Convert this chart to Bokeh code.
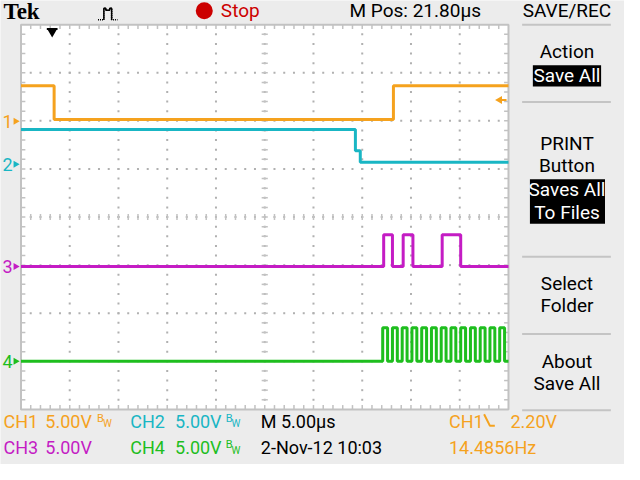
import numpy as np
from bokeh.plotting import figure
from bokeh.models import Range1d, Label
from bokeh.embed import file_html
from bokeh.resources import INLINE

# ---------------- data (time in µs, levels in volts) ----------------
ch1_t = [0.0, 3.4, 38.2, 50.0]
ch1_v = [3.7, 0.2, 3.7, 3.7]

ch2_t = [0.0, 34.3, 34.8, 50.0]
ch2_v = [3.6, 1.4, 0.2, 0.2]

ch3_t = [0.0, 37.2, 38.1, 39.2, 40.2, 43.2, 45.1, 50.0]
ch3_v = [0.0, 3.3, 0.0, 3.3, 0.0, 3.3, 0.0, 0.0]

ch4_t = [0.0, 37.1, 37.6, 38.1, 38.6, 39.1, 39.6, 40.1, 40.6, 41.1, 41.6, 42.1, 42.6,
         43.1, 43.6, 44.1, 44.6, 45.1, 45.6, 46.1, 46.6, 47.1, 47.6, 48.1, 48.6,
         49.1, 49.6, 50.0]
ch4_v = [0.0, 3.5, 0.0, 3.5, 0.0, 3.5, 0.0, 3.5, 0.0, 3.5, 0.0, 3.5, 0.0,
         3.5, 0.0, 3.5, 0.0, 3.5, 0.0, 3.5, 0.0, 3.5, 0.0, 3.5, 0.0,
         3.5, 0.0, 0.0]

channels = ["1", "2", "3", "4"]
ground_div = [5.99, 5.10, 2.97, 1.00]     # ground marker position (divisions from bottom)
volts_per_div = [5.0, 5.0, 5.0, 5.0]
ch_colors = ["#f5a21e", "#19b6c4", "#c41cc4", "#1ebe1e"]

# ---------------- layout helpers (reference pixel -> data) ----------------
def X(px):
    return (px - 21) / 10.0


def Y(py):
    return (423 - py) / 49.75


FONT = "Roboto"
BG = "#ececec"
GRAT = "#c2c2c2"
DOT = "#b0b0b0"

p = figure(width=624, height=464, output_backend="svg", toolbar_location=None,
           x_axis_location=None, y_axis_location=None,
           x_range=Range1d(X(0), X(640)), y_range=Range1d(Y(480), Y(0)),
           min_border=0, outline_line_color=None)
p.background_fill_color = BG
p.border_fill_color = BG
p.grid.visible = False

# graticule area
p.quad(left=0, right=50, bottom=0, top=8, fill_color="white", line_color=GRAT, line_width=2)

# dotted division lines
dx, dy = [], []
for xv in np.arange(5, 50, 5):
    for yv in np.arange(0.2, 8.0, 0.2):
        dx.append(xv); dy.append(yv)
for yv in np.arange(1, 8, 1):
    for xv in np.arange(1, 50, 1):
        dx.append(xv); dy.append(yv)
p.scatter(dx, dy, marker="square", size=2, fill_color=DOT, line_color=None)

# minor ticks on border and centre lines
tx = np.arange(1, 50, 1)
ty = np.arange(0.2, 8.0, 0.2)
tl_x = 0.45
tl_y = 0.09
p.segment(x0=tx, y0=0, x1=tx, y1=tl_y, line_color=GRAT, line_width=1.5)
p.segment(x0=tx, y0=8, x1=tx, y1=8 - tl_y, line_color=GRAT, line_width=1.5)
p.segment(x0=tx, y0=4 - tl_y * 0.7, x1=tx, y1=4 + tl_y * 0.7, line_color=GRAT, line_width=1.5)
p.segment(x0=0, y0=ty, x1=tl_x, y1=ty, line_color=GRAT, line_width=1.5)
p.segment(x0=50, y0=ty, x1=50 - tl_x, y1=ty, line_color=GRAT, line_width=1.5)
p.segment(x0=25 - tl_x * 0.7, y0=ty, x1=25 + tl_x * 0.7, y1=ty, line_color=GRAT, line_width=1.5)

# traces
series = [(ch1_t, ch1_v), (ch2_t, ch2_v), (ch3_t, ch3_v), (ch4_t, ch4_v)]
for (t, v), g, vpd, c in zip(series, ground_div, volts_per_div, ch_colors):
    y = [g + vv / vpd for vv in v]
    p.step(t, y, mode="after", line_color=c, line_width=3)

# ground markers
for name, g, c in zip(channels, ground_div, ch_colors):
    p.add_layout(Label(x=X(2), y=g, text=name, text_color=c, text_font=FONT,
                       text_font_size="18px", text_baseline="middle"))
    p.scatter([X(15.5)], [g], marker="triangle", angle=-np.pi / 2, size=7,
              fill_color=c, line_color=None)

# trigger position marker (top) and trigger level marker (right)
p.segment(x0=X(47.5), y0=Y(29.5), x1=X(58.5), y1=Y(29.5), line_color="black", line_width=2)
p.scatter([X(53)], [Y(33)], marker="inverted_triangle", size=9, fill_color="black", line_color=None)
p.scatter([X(512)], [Y(103)], marker="triangle", angle=np.pi / 2, size=8,
          fill_color=ch_colors[0], line_color=None)
p.segment(x0=X(512), y0=Y(103), x1=X(519), y1=Y(103), line_color=ch_colors[0], line_width=2)

# ---- top status bar ----
p.add_layout(Label(x=X(3), y=Y(11), text="Tek", text_font="Liberation Serif",
                   text_font_style="bold", text_font_size="23px", text_color="black",
                   text_baseline="middle"))
p.line([X(100), X(106), X(106), X(108), X(108), X(112), X(112), X(114), X(114), X(120)],
       [Y(20), Y(20), Y(8), Y(8), Y(10), Y(10), Y(8), Y(8), Y(20), Y(20)],
       line_color="black", line_width=1.5, line_dash="1 1")
p.line([X(106), X(106), X(108), X(108), X(112), X(112), X(114), X(114)],
       [Y(20), Y(8), Y(8), Y(10), Y(10), Y(8), Y(8), Y(20)],
       line_color="black", line_width=1.5)
p.scatter([X(209)], [Y(10.5)], marker="circle", size=17, fill_color="#cc0000", line_color=None)
p.add_layout(Label(x=X(226), y=Y(10.5), text="Stop", text_color="#cc0000", text_font=FONT,
                   text_font_size="19px", text_baseline="middle"))
p.add_layout(Label(x=X(358), y=Y(10.5), text="M Pos: 21.80µs", text_color="black",
                   text_font=FONT, text_font_size="19px", text_baseline="middle"))
p.add_layout(Label(x=X(581), y=Y(10.5), text="SAVE/REC", text_color="black",
                   text_font=FONT, text_font_size="19px", text_baseline="middle",
                   text_align="center"))

# ---- right menu ----
for sy in [25, 105, 265, 345, 424]:
    p.segment(x0=X(535), y0=Y(sy), x1=X(626), y1=Y(sy), line_color="#c4c4c4", line_width=2)
p.quad(left=X(546), right=X(616), top=Y(67), bottom=Y(89), fill_color="black", line_color=None)
p.quad(left=X(543), right=X(620), top=Y(185), bottom=Y(231), fill_color="black", line_color=None)

menu = [("Action", 53, "black"), ("Save All", 78, "white"),
        ("PRINT", 148, "black"), ("Button", 171, "black"),
        ("Saves All", 196, "white"), ("To Files", 219, "white"),
        ("Select", 293, "black"), ("Folder", 316, "black"),
        ("About", 373, "black"), ("Save All", 396, "black")]
for txt, py, col in menu:
    p.add_layout(Label(x=X(581), y=Y(py), text=txt, text_color=col, text_font=FONT,
                       text_font_size="19px", text_baseline="middle", text_align="center"))

# ---- bottom readouts ----
def lab(txt, px, py, col, size="18px"):
    p.add_layout(Label(x=X(px), y=Y(py), text=txt, text_color=col, text_font=FONT,
                       text_font_size=size, text_baseline="middle"))


def bw(px, py, col):
    lab("B", px, py - 3, col, "11px")
    lab("W", px + 6, py + 3, col, "10px")


r1, r2 = 435, 462
lab("CH1", 3, r1, ch_colors[0]); lab("5.00V", 46, r1, ch_colors[0]); bw(99, r1, ch_colors[0])
lab("CH2", 133, r1, ch_colors[1]); lab("5.00V", 179, r1, ch_colors[1]); bw(231, r1, ch_colors[1])
lab("M 5.00µs", 267, r1, "black")
lab("CH1", 460, r1, ch_colors[0])
p.line([X(496), X(502), X(507)], [Y(428), Y(440), Y(440)], line_color=ch_colors[0], line_width=2)
lab("2.20V", 523, r1, ch_colors[0])

lab("CH3", 3, r2, ch_colors[2]); lab("5.00V", 46, r2, ch_colors[2])
lab("CH4", 133, r2, ch_colors[3]); lab("5.00V", 179, r2, ch_colors[3]); bw(231, r2, ch_colors[3])
lab("2-Nov-12 10:03", 267, r2, "black")
lab("14.4856Hz", 460, r2, ch_colors[0])

open("out.html", "w").write(file_html(p, INLINE))
